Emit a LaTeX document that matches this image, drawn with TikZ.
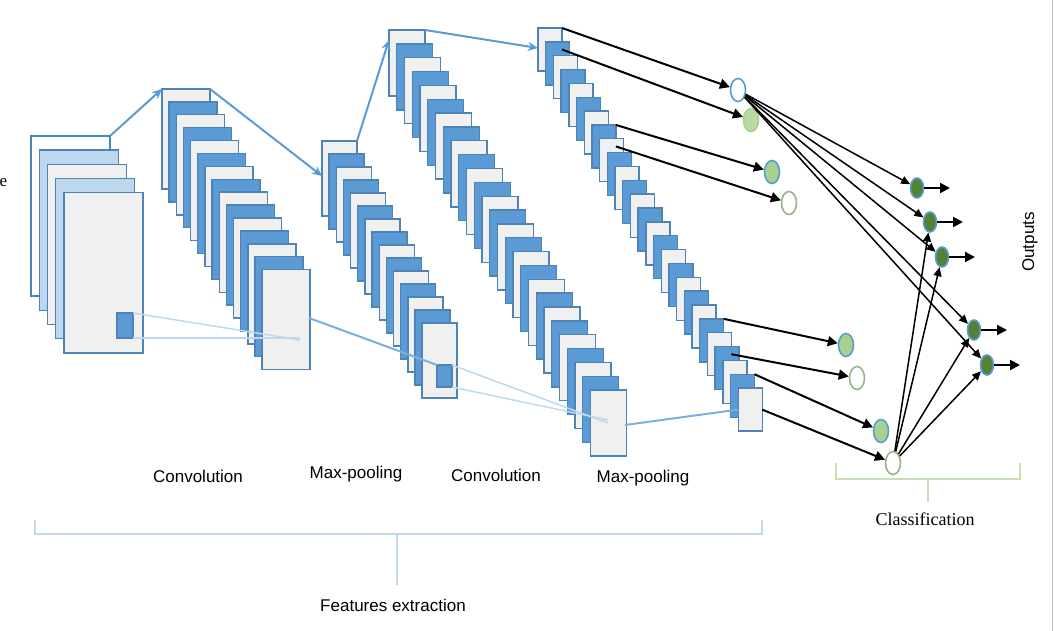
\documentclass[tikz,border=0pt]{standalone}
\usepackage{fontspec}
\setmainfont{Liberation Serif}
\newfontfamily\sans{Liberation Sans}
\usetikzlibrary{arrows.meta,shapes.geometric}
\definecolor{fb}{HTML}{5B9BD5}
\definecolor{fl}{HTML}{BDD7EE}
\definecolor{fg}{HTML}{F0F0F0}
\definecolor{lg}{HTML}{A9D18E}
\definecolor{dg}{HTML}{548235}
\definecolor{gb}{HTML}{C5E0B4}
\definecolor{bb}{HTML}{C0D8EE}
\tikzset{
 fr/.style={draw=fb!85!black,line width=1.4pt,inner sep=0,outer sep=0,anchor=north west},
 cir/.style={ellipse,minimum width=15pt,minimum height=23pt,inner sep=0,line width=1.6pt},
 cb/.style={cir,draw=fb,fill=white},
 cg/.style={cir,draw=lg,fill=lg!80},
 cgb/.style={cir,draw=fb,fill=lg},
 cw/.style={cir,draw=dg!60,fill=white},
 co/.style={cir,draw=fb,fill=dg,minimum width=13pt,minimum height=20pt},
 ba/.style={-{Triangle[length=10pt,width=10pt]},line width=2pt},
 bt/.style={-{Triangle[length=9pt,width=8pt]},line width=1.5pt},
 bl/.style={fb,line width=2pt,-{Stealth[length=10pt,width=9pt]}},
 lab/.style={font=\sans\fontsize{17}{20}\selectfont}
}
\begin{document}
\begin{tikzpicture}[x=1pt,y=-1pt]
\useasboundingbox (0,0) rectangle (1054,631);
\draw[gray!50] (1052,0) -- (1052,631);
\node[anchor=west,font=\fontsize{17}{20}\selectfont] (e) at (-4,183) {e};
% stack 1
\foreach \i/\c in {0/white,1/fl,2/fg,3/fl,4/fg}{
 \node[fr,fill=\c,minimum width=79pt,minimum height=160pt] (s1-\i) at ({31+8.2*\i},{136+14.2*\i}) {};
}
\node[fr,fill=fb,minimum width=16pt,minimum height=25pt] (sq1) at (117,313) {};
% stack 2
\foreach \i in {0,...,14}{
 \pgfmathsetmacro\c{ifthenelse(\i==14,"fg",ifthenelse(mod(\i,2)==0,"fg","fb"))}
 \node[fr,fill=\c,minimum width=48pt,minimum height=100pt] (s2-\i) at ({162+7.15*\i},{89+12.9*\i}) {};
}
% stack 3
\foreach \i in {0,...,14}{
 \pgfmathsetmacro\c{ifthenelse(\i==14,"fg",ifthenelse(mod(\i,2)==0,"fg","fb"))}
 \node[fr,fill=\c,minimum width=35pt,minimum height=75pt] (s3-\i) at ({322+7.15*\i},{141+13*\i}) {};
}
\node[fr,fill=fb,minimum width=15pt,minimum height=22pt] (sq3) at (437,365) {};
% stack 4
\foreach \i in {0,...,26}{
 \pgfmathsetmacro\c{ifthenelse(\i==26,"fg",ifthenelse(mod(\i,2)==0,"fg","fb"))}
 \node[fr,fill=\c,minimum width=36pt,minimum height=66pt] (s4-\i) at ({389+7.75*\i},{30+13.85*\i}) {};
}
% stack 5
\foreach \i in {0,...,26}{
 \pgfmathsetmacro\c{ifthenelse(\i==26,"fg",ifthenelse(mod(\i,2)==0,"fg","fb"))}
 \node[fr,fill=\c,minimum width=24pt,minimum height=43pt] (s5-\i) at ({538+7.7*\i},{28+13.85*\i}) {};
}
% blue arrows
\draw[bl] (s1-0.north east) -- (s2-0.north west);
\draw[bl] (s2-0.north east) -- ([yshift=-35pt]s3-0.north west);
\draw[bl] (s3-0.north east) -- ([yshift=-10pt]s4-0.north west);
\draw[bl] (s4-0.north east) -- ([yshift=-20pt]s5-0.north west);
% projection lines
\draw[bb,line width=1.5pt] (sq1.north east) -- (300,340);
\draw[bb,line width=1.5pt] (sq1.south east) -- (300,338);
\draw[fb!80,line width=2pt] (309,318) -- (sq3.north west);
\draw[bb,line width=1.5pt] (sq3.south east) -- (608,420);
\draw[bb,line width=1.5pt] (sq3.north east) -- (608,423);
\draw[fb!80,line width=2pt] (625,425) -- (s5-26.west);
% circles
\node[cb] (c1) at (738,90) {};
\node[cg] (c2) at (751,120) {};
\node[cgb] (c3) at (772,172) {};
\node[cw] (c4) at (789,203) {};
\node[cgb] (c5) at (846,345) {};
\node[cw] (c6) at (857,378) {};
\node[cgb] (c7) at (881,431) {};
\node[cw] (c8) at (893,463) {};
\node[co] (o1) at (917,188) {};
\node[co] (o2) at (930,222) {};
\node[co] (o3) at (942,257) {};
\node[co] (o4) at (974,330) {};
\node[co] (o5) at (987,365) {};
\foreach \o in {1,...,5}{
 \coordinate (e\o) at ([xshift=33pt]o\o.center);
 \draw[ba] (o\o) -- (e\o);
}
% black arrows from stack 5
\draw[ba] (s5-0.north east) -- (c1);
\draw[ba] (s5-0.east) -- (c2);
\draw[ba] (s5-7.north east) -- (c3);
\draw[ba] (s5-7.east) -- (c4);
\draw[ba] (s5-21.north east) -- (c5);
\draw[ba] (s5-22.east) -- (c6);
\draw[ba] (s5-25.north east) -- (c7);
\draw[ba] (s5-26.east) -- (c8);
\foreach \o in {1,...,5}{
 \draw[bt] (c1) -- (o\o);
}
\foreach \o in {2,...,5}{
 \draw[bt] (c8) -- (o\o);
}
% labels
\node[lab] (l1) at (198,476) {Convolution};
\node[lab] (l2) at (356,474) {Max-pooling};
\node[lab] (l3) at (496,475) {Convolution};
\node[lab] (l4) at (643,478) {Max-pooling};
\draw[bb,line width=1.5pt] (35,520) -- (35,534) -- (762,534) -- (762,520);
\draw[bb,line width=1.5pt] (397,534) -- (397,585);
\node[lab] (fe) at (393,605) {Features extraction};
\draw[gb,line width=1.5pt] (836,463) -- (836,479) -- (1020,479) -- (1020,463);
\draw[gb,line width=1.5pt] (928,479) -- (928,502);
\node[font=\fontsize{18}{20}\selectfont] (cl) at (925,519) {Classification};
\node[lab,rotate=90] (out) at (1030,242) {Outputs};
\end{tikzpicture}
\end{document}
